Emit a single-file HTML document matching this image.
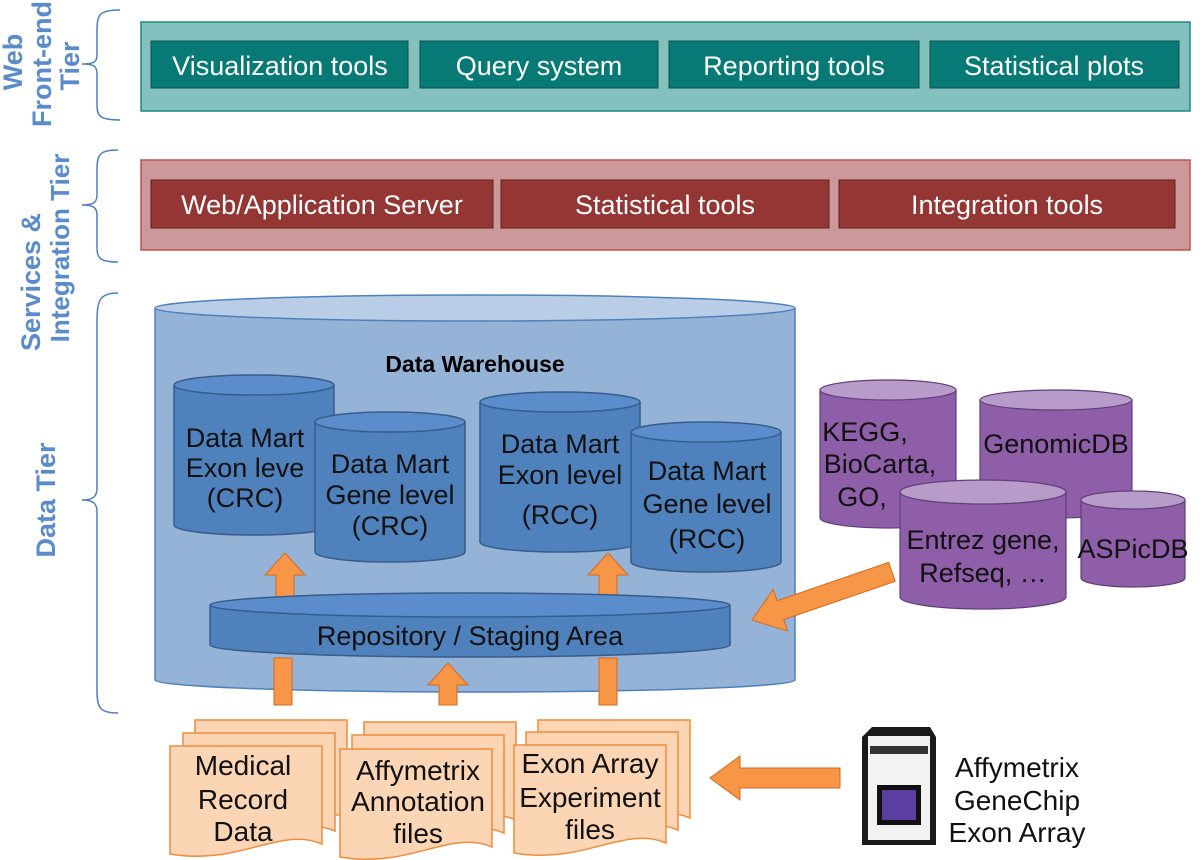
<!DOCTYPE html>
<html><head><meta charset="utf-8"><style>body{margin:0;background:#fff}svg{display:block}text{font-family:"Liberation Sans",sans-serif}</style></head>
<body>
<svg width="1200" height="860" viewBox="0 0 1200 860" xmlns="http://www.w3.org/2000/svg">
<defs>
<g id="doc"><path d="M0,0 H152 V98 C110,80 70,120 0,108 Z"/></g>
</defs>
<!-- tier labels -->
<g fill="#5a8ccb" font-weight="bold" font-size="27" text-anchor="middle">
<text transform="translate(22,62) rotate(-90)">Web</text>
<text transform="translate(51,64) rotate(-90)">Front-end</text>
<text transform="translate(79,66) rotate(-90)">Tier</text>
<text transform="translate(40,282) rotate(-90)">Services &amp;</text>
<text transform="translate(69,248) rotate(-90)" font-size="26">Integration Tier</text>
<text transform="translate(55,500) rotate(-90)">Data Tier</text>
</g>
<!-- braces -->
<g fill="none" stroke="#4f7fbf" stroke-width="1.5">
<path d="M120,10 C100,10 97,14 97,30 V55 C97,62 94,64 82,64 C94,64 97,66 97,74 V105 C97,116 100,120 120,120"/>
<path d="M118,150 C100,150 97,154 97,170 V195 C97,202 94,205 82,205 C94,205 97,208 97,215 V248 C97,258 100,262 118,262"/>
<path d="M118,293 C100,293 97,300 97,320 V488 C97,496 94,500 82,500 C94,500 97,504 97,512 V690 C97,708 100,713 118,713"/>
</g>
<!-- web tier -->
<rect x="141" y="22" width="1049" height="89" fill="#84c0be" stroke="#1b8a83" stroke-width="1.5"/>
<g fill="#087a75" stroke="#0d4f4c" stroke-width="1">
<rect x="151" y="41" width="257" height="47"/><rect x="420" y="41" width="238" height="47"/>
<rect x="669" y="41" width="250" height="47"/><rect x="930" y="41" width="249" height="47"/>
</g>
<g fill="#fff" font-size="27" text-anchor="middle">
<text x="280" y="75">Visualization tools</text><text x="539" y="75">Query system</text>
<text x="794" y="75">Reporting tools</text><text x="1054" y="75">Statistical plots</text>
</g>
<!-- services tier -->
<rect x="141" y="160" width="1049" height="90" fill="#cc9899" stroke="#c0504d" stroke-width="1.5"/>
<g fill="#943634" stroke="#5e1f1e" stroke-width="1">
<rect x="151" y="180" width="342" height="48"/><rect x="501" y="180" width="328" height="48"/><rect x="839" y="180" width="336" height="48"/>
</g>
<g fill="#fff" font-size="27" text-anchor="middle">
<text x="322" y="214">Web/Application Server</text><text x="665" y="214">Statistical tools</text><text x="1007" y="214">Integration tools</text>
</g>
<!-- warehouse -->
<path d="M155,308 V680 A320,12 0 0 0 795,680 V308" fill="#95b3d7" stroke="#4f81bd" stroke-width="1.5"/>
<ellipse cx="475" cy="308" rx="320" ry="13" fill="#b9cde6" stroke="#4f81bd" stroke-width="1.5"/>
<text x="475" y="372" font-size="23" font-weight="bold" text-anchor="middle" fill="#000">Data Warehouse</text>
<!-- data marts -->
<g stroke="#385d8a" stroke-width="1.5">
<path d="M174,385 V525 A80,10 0 0 0 334,525 V385" fill="#4f81bd"/><ellipse cx="254" cy="385" rx="80" ry="10" fill="#5b8ccb"/>
<path d="M315,422 V552 A75,10 0 0 0 465,552 V422" fill="#4f81bd"/><ellipse cx="390" cy="422" rx="75" ry="10" fill="#5b8ccb"/>
<path d="M480,402 V542 A80,10 0 0 0 640,542 V402" fill="#4f81bd"/><ellipse cx="560" cy="402" rx="80" ry="10" fill="#5b8ccb"/>
<path d="M631,432 V562 A75,10 0 0 0 781,562 V432" fill="#4f81bd"/><ellipse cx="706" cy="432" rx="75" ry="10" fill="#5b8ccb"/>
</g>
<g fill="#111" font-size="27" text-anchor="middle">
<text x="245" y="447">Data Mart</text><text x="245" y="477">Exon leve</text><text x="245" y="507">(CRC)</text>
<text x="390" y="473">Data Mart</text><text x="390" y="504">Gene level</text><text x="390" y="535">(CRC)</text>
<text x="560" y="453">Data Mart</text><text x="560" y="484">Exon level</text><text x="560" y="524">(RCC)</text>
<text x="707" y="480">Data Mart</text><text x="707" y="513">Gene level</text><text x="707" y="548">(RCC)</text>
</g>
<!-- orange arrows -->
<g fill="#f79646" stroke="#d46a1a" stroke-width="1">
<polygon points="276,606 276,575 265,575 285,553 305,575 294,575 294,606"/>
<polygon points="599,606 599,575 588,575 608,553 628,575 617,575 617,606"/>
<polygon points="274,705 274,658 292,658 292,705"/>
<polygon points="439,705 439,685 428,685 448,663 468,685 457,685 457,705"/>
<polygon points="599,705 599,658 617,658 617,705"/>
<polygon points="840,768 740,768 740,756 710,778 740,800 740,788 840,788"/>
<polygon transform="translate(752,620) rotate(-19)" points="0,0 30,-22 30,-10 148,-10 148,10 30,10 30,22"/>
</g>
<!-- repository -->
<path d="M210,605 V645 A260,12 0 0 0 730,645 V605" fill="#4f81bd" stroke="#385d8a" stroke-width="1.5"/>
<ellipse cx="470" cy="605" rx="260" ry="12" fill="#5b8ccb" stroke="#385d8a" stroke-width="1.5"/>
<text x="470" y="645" font-size="27" text-anchor="middle" fill="#111">Repository / Staging Area</text>
<!-- purple dbs -->
<g stroke="#5f3f7a" stroke-width="1.2">
<path d="M820,390 V518 A68,10 0 0 0 956,518 V390" fill="#8e5ea8"/><ellipse cx="888" cy="390" rx="68" ry="10" fill="#b79cc9"/>
<path d="M980,400 V508 A76,10 0 0 0 1132,508 V400" fill="#8e5ea8"/><ellipse cx="1056" cy="400" rx="76" ry="10" fill="#b79cc9"/>
<path d="M900,492 V597 A83,12 0 0 0 1066,597 V492" fill="#8e5ea8"/><ellipse cx="983" cy="492" rx="83" ry="12" fill="#b79cc9"/>
<path d="M1081,500 V578 A52,9 0 0 0 1185,578 V500" fill="#8e5ea8"/><ellipse cx="1133" cy="500" rx="52" ry="9" fill="#b79cc9"/>
</g>
<g fill="#111" font-size="27" text-anchor="middle">
<text x="865" y="441">KEGG,</text><text x="880" y="473">BioCarta,</text><text x="862" y="506">GO,</text>
<text x="1056" y="453">GenomicDB</text>
<text x="983" y="549">Entrez gene,</text><text x="983" y="582">Refseq, …</text>
<text x="1133" y="558">ASPicDB</text>
</g>
<!-- documents -->
<g fill="#fcd5b5" stroke="#f08c3c" stroke-width="1.5">
<use href="#doc" x="195" y="720"/><use href="#doc" x="183" y="733"/><use href="#doc" x="170" y="746"/>
<use href="#doc" x="364" y="722"/><use href="#doc" x="352" y="735"/><use href="#doc" x="340" y="749"/>
<use href="#doc" x="538" y="720"/><use href="#doc" x="526" y="732"/><use href="#doc" x="514" y="745"/>
</g>
<g fill="#111" font-size="28" text-anchor="middle">
<text x="243" y="775">Medical</text><text x="243" y="809">Record</text><text x="243" y="841">Data</text>
<text x="418" y="780">Affymetrix</text><text x="418" y="811">Annotation</text><text x="418" y="843">files</text>
<text x="590" y="773">Exon Array</text><text x="590" y="807">Experiment</text><text x="590" y="839">files</text>
</g>
<!-- chip -->
<path d="M872,727 H930 L936,737 V845 H862 V737 Z" fill="#1a1a1a"/>
<rect x="868" y="736" width="62" height="104" fill="#f2f2f2"/>
<rect x="870" y="746" width="58" height="8" fill="#333"/>
<rect x="877" y="785" width="44" height="40" fill="#111"/>
<rect x="882" y="790" width="34" height="30" fill="#5b3fa0"/>
<g fill="#111" font-size="28" text-anchor="middle">
<text x="1017" y="777">Affymetrix</text><text x="1017" y="810">GeneChip</text><text x="1017" y="842">Exon Array</text>
</g>
</svg>
</body></html>
